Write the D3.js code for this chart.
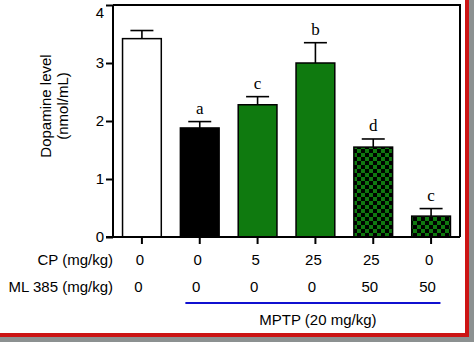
<!DOCTYPE html>
<html>
<head>
<meta charset="utf-8">
<script src="https://cdn.jsdelivr.net/npm/d3@7"></script>
<style>
  body { margin: 0; background: #8c9191; }
  svg { display: block; }
</style>
</head>
<body>
<div id="wrapper"></div>
<script>
    // values
    const groups = ["g1", "g2", "g3", "g4", "g5", "g6"]
    const dopamine = [3.42, 1.88, 2.28, 3.0, 1.55, 0.36]
    const sem = [0.14, 0.11, 0.14, 0.35, 0.14, 0.13]
    const letters = ["", "a", "c", "b", "d", "c"]
    const cpDose = ["0", "0", "5", "25", "25", "0"]
    const mlDose = ["0", "0", "0", "0", "50", "50"]
    const yTicks = [0, 1, 2, 3, 4]
    const fills = ["white", "black", "green", "green", "checker", "checker"]

    let dimensions = {
        width: 474,
        height: 342,
        margin: { top: 5, right: 14, bottom: 105, left: 113 }
    }
    dimensions.boundedWidth = dimensions.width - dimensions.margin.left - dimensions.margin.right
    dimensions.boundedHeight = dimensions.height - dimensions.margin.top - dimensions.margin.bottom

    const green = "#0f7a0f"

    let svg = d3.select("#wrapper")
        .append("svg")
        .attr("width", dimensions.width)
        .attr("height", dimensions.height)

    // page background with red frame (only right and bottom edges visible)
    svg.append("rect")
        .attr("x", -10).attr("y", -10)
        .attr("width", 477).attr("height", 345)
        .attr("fill", "white")
        .attr("stroke", "#cc1414")
        .attr("stroke-width", 4)

    let defs = svg.append("defs")
    let pat = defs.append("pattern")
        .attr("id", "checker")
        .attr("patternUnits", "userSpaceOnUse")
        .attr("width", 8).attr("height", 8)
    pat.append("rect").attr("width", 8).attr("height", 8).attr("fill", green)
    pat.append("rect").attr("width", 4).attr("height", 4).attr("fill", "black")
    pat.append("rect").attr("x", 4).attr("y", 4).attr("width", 4).attr("height", 4).attr("fill", "black")

    let bounds = svg.append("g")
        .attr("transform", "translate(" + dimensions.margin.left + "," + dimensions.margin.top + ")")

    let xScale = d3.scaleBand()
        .domain(groups)
        .range([0, dimensions.boundedWidth])
        .paddingInner(0.33)
        .paddingOuter(0.165)

    let yScale = d3.scaleLinear()
        .domain([0, 4])
        .range([dimensions.boundedHeight, 0])

    function fillOf(i) {
        if (fills[i] === "checker") return "url(#checker)"
        if (fills[i] === "green") return green
        return fills[i]
    }

    // error bars (upper only)
    groups.forEach(function (g, i) {
        const cx = xScale(g) + xScale.bandwidth() / 2
        const top = yScale(dopamine[i] + sem[i])
        bounds.append("line")
            .attr("x1", cx).attr("x2", cx)
            .attr("y1", yScale(dopamine[i])).attr("y2", top)
            .attr("stroke", "black").attr("stroke-width", 1.6)
        bounds.append("line")
            .attr("x1", cx - 11.5).attr("x2", cx + 11.5)
            .attr("y1", top).attr("y2", top)
            .attr("stroke", "black").attr("stroke-width", 1.6)
        if (letters[i]) {
            bounds.append("text")
                .attr("x", cx)
                .attr("y", top - 8)
                .attr("text-anchor", "middle")
                .style("font-family", "'Liberation Serif', 'Times New Roman', serif")
                .style("font-size", "17px")
                .text(letters[i])
        }
    })

    bounds.selectAll(".bar")
        .data(groups)
        .enter()
        .append("rect")
        .attr("class", "bar")
        .attr("x", d => xScale(d))
        .attr("width", xScale.bandwidth())
        .attr("y", (d, i) => yScale(dopamine[i]))
        .attr("height", (d, i) => dimensions.boundedHeight - yScale(dopamine[i]))
        .attr("fill", (d, i) => fillOf(i))
        .attr("stroke", "black")
        .attr("stroke-width", 1.5)

    // frame top and right
    bounds.append("path")
        .attr("d", "M0,0H" + dimensions.boundedWidth + "V" + dimensions.boundedHeight)
        .attr("fill", "none")
        .attr("stroke", "black")
        .attr("stroke-width", 2)

    let yAxis = bounds.append("g")
        .call(d3.axisLeft(yScale).tickValues(yTicks).tickSize(7).tickPadding(2).tickFormat(d3.format("d")))
    yAxis.select(".domain").attr("stroke-width", 2).attr("d", "M0,0V" + dimensions.boundedHeight)
    yAxis.selectAll(".tick line").attr("stroke-width", 2)
    yAxis.selectAll("text")
        .style("font-family", "'Liberation Sans', Arial, sans-serif")
        .style("font-size", "15px")
        .attr("fill", "black")
    // top label sits a little lower, as in the figure
    yAxis.selectAll(".tick").filter(d => d === 4).select("text").attr("dy", "0.8em")

    let xAxis = bounds.append("g")
        .attr("transform", "translate(0," + dimensions.boundedHeight + ")")
        .call(d3.axisBottom(xScale).tickSize(7).tickFormat(""))
    xAxis.select(".domain").attr("stroke-width", 2).attr("d", "M-7,0H" + dimensions.boundedWidth)
    xAxis.selectAll(".tick line").attr("stroke-width", 2)

    // dose rows
    const labelFont = "'Liberation Sans', Arial, sans-serif"
    function doseRow(name, values, y, dx) {
        bounds.append("text")
            .attr("x", 0).attr("y", y)
            .attr("text-anchor", "end")
            .style("font-family", labelFont).style("font-size", "15px")
            .text(name)
        values.forEach(function (v, i) {
            bounds.append("text")
                .attr("x", xScale(groups[i]) + xScale.bandwidth() / 2 + dx)
                .attr("y", y)
                .attr("text-anchor", "middle")
                .style("font-family", labelFont).style("font-size", "15px")
                .text(v)
        })
    }
    doseRow("CP (mg/kg)", cpDose, dimensions.boundedHeight + 28, -2)
    doseRow("ML 385 (mg/kg)", mlDose, dimensions.boundedHeight + 55, -3.5)

    // MPTP bracket
    const x0 = xScale(groups[1]) + 5
    const x1 = xScale(groups[5]) + xScale.bandwidth() - 10
    bounds.append("line")
        .attr("x1", x0).attr("x2", x1)
        .attr("y1", dimensions.boundedHeight + 66).attr("y2", dimensions.boundedHeight + 66)
        .attr("stroke", "#1010d0").attr("stroke-width", 2)
    bounds.append("text")
        .attr("x", (x0 + x1) / 2 + 5)
        .attr("y", dimensions.boundedHeight + 88)
        .attr("text-anchor", "middle")
        .style("font-family", labelFont).style("font-size", "15px")
        .text("MPTP (20 mg/kg)")

    // y title
    let yTitle = svg.append("text")
        .attr("transform", "translate(53,106) rotate(-90)")
        .attr("text-anchor", "middle")
        .style("font-family", labelFont).style("font-size", "15px")
    yTitle.append("tspan").attr("x", 0).attr("dy", "-0.15em").text("Dopamine level")
    yTitle.append("tspan").attr("x", 0).attr("dy", "1.15em").text("(nmol/mL)")
</script>
</body>
</html>
